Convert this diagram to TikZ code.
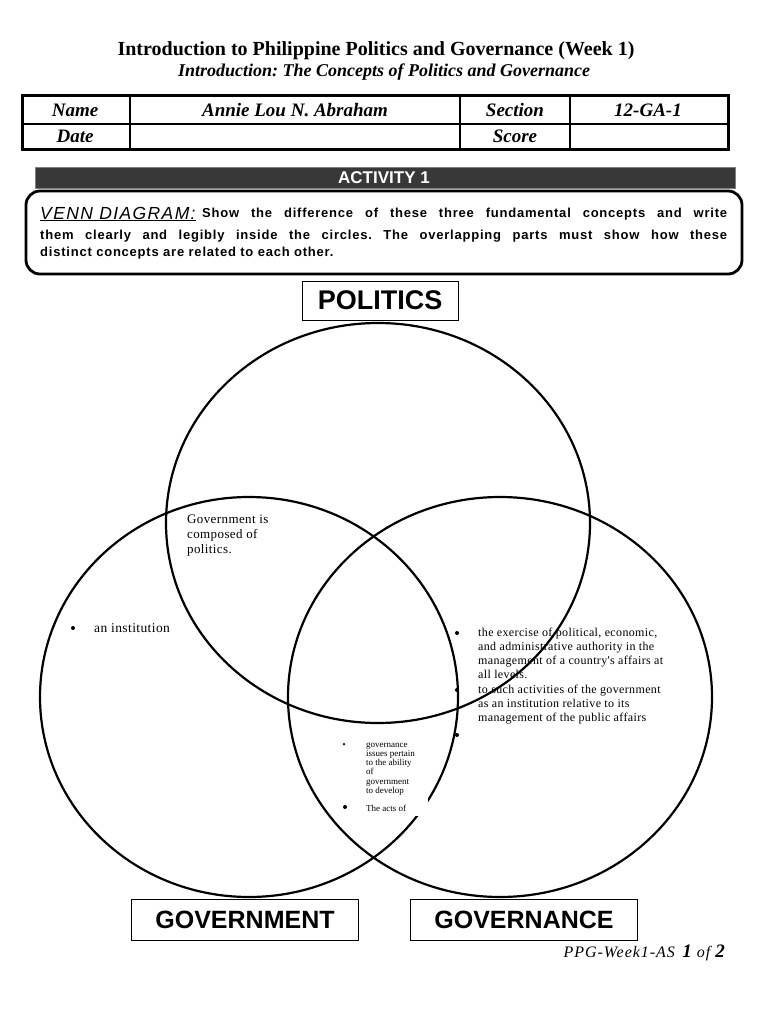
\documentclass[tikz,border=0pt]{standalone}
\usepackage{fontspec}
\usetikzlibrary{shapes.geometric}
\setmainfont{Liberation Serif}
\newfontfamily\hdfont{Liberation Serif}
\newfontfamily\bodyserif[LetterSpace=3]{Liberation Serif}
\newfontfamily\smallserif{Liberation Serif}
\newfontfamily\footfont[LetterSpace=6]{Liberation Serif}
\newfontfamily\instrfont[LetterSpace=6]{Liberation Sans}
\newfontfamily\vennfont[LetterSpace=8]{Liberation Sans}
\newfontfamily\labfont{Liberation Sans}
\newcommand{\fs}[1]{\fontsize{#1}{#1}\selectfont}
\frenchspacing
\tikzset{
  venn/.style={draw, ellipse, line width=2.2pt, inner sep=0pt},
  labbox/.style={draw, line width=0.8pt, inner sep=0pt, font=\labfont\bfseries\fs{25}},
  hd/.style={anchor=base, inner sep=0pt},
  cell/.style={anchor=base, inner sep=0pt, font=\hdfont\bfseries\itshape\fs{19}},
  txt/.style={anchor=base west, inner sep=0pt},
  bul/.style={circle, fill=black, inner sep=0pt, minimum size=4pt},
}
\begin{document}
\begin{tikzpicture}[x=1pt,y=-1pt]
\useasboundingbox[fill=white] (0,0) rectangle (768,1024);

% header
\node[hd, font=\hdfont\bfseries\fs{20}] (title) at (376,56) {Introduction to Philippine Politics and Governance (Week 1)};
\node[hd, font=\hdfont\bfseries\itshape\fs{18}] (subtitle) at (384,77) {Introduction: The Concepts of Politics and Governance};

% table
\draw[line width=3pt] (22,96) rectangle (728,150);
\draw[line width=2.4pt] (22,124) -- (728,124);
\draw[line width=2.4pt] (130,96) -- (130,150);
\draw[line width=2.4pt] (460,96) -- (460,150);
\draw[line width=2.4pt] (570,96) -- (570,150);
\node[cell] (name) at (75,117) {Name};
\node[cell] (nameval) at (295,117) {Annie Lou N. Abraham};
\node[cell] (section) at (515,117) {Section};
\node[cell] (secval) at (648,117) {12-GA-1};
\node[cell] (date) at (75,143) {Date};
\node[cell] (score) at (515,143) {Score};

% activity bar
\fill[black!78] (35,167) rectangle (735,188);
\draw[black!50, line width=0.8pt] (35,167) rectangle (735,188);
\node[hd, text=white, font=\labfont\bfseries\fs{17}] (act) at (384,184) {ACTIVITY 1};

% instruction box
\draw[line width=2.8pt, rounded corners=14pt] (26,191) rectangle (742,274);
\node[txt, font=\vennfont\itshape\fs{17.5}] (venn) at (40,219) {\underline{VENN DIAGRAM:}};
\node[txt, font=\instrfont\bfseries\fs{13}] (ins1) at (202,218) {\makebox[525pt][s]{Show the difference of these three fundamental concepts and write}};
\node[txt, font=\instrfont\bfseries\fs{13}] (ins2) at (40,240) {\makebox[687pt][s]{them clearly and legibly inside the circles. The overlapping parts must show how these}};
\node[txt, font=\instrfont\bfseries\fs{13}] (ins3) at (40,256) {distinct concepts are related to each other.};

% label boxes
\node[labbox, minimum width=156pt, minimum height=39pt, font=\labfont\bfseries\fs{27}] (politics) at (380,300.5) {POLITICS};
\node[labbox, minimum width=227pt, minimum height=41pt] (government) at (245,919.5) {GOVERNMENT};
\node[labbox, minimum width=227pt, minimum height=41pt] (governance) at (524,919.5) {GOVERNANCE};

% texts inside circles
\node[txt, font=\bodyserif\fs{13}] (g1) at (187,523) {Government is};
\node[txt, font=\bodyserif\fs{13}] (g2) at (187,538) {composed of};
\node[txt, font=\bodyserif\fs{13}] (g3) at (187,553) {politics.};

\node[bul] (b0) at (73,628) {};
\node[txt, font=\bodyserif\fs{13.5}] (inst) at (94,632) {an institution};

\node[bul] (b1) at (457,633) {};
\node[bul] (b2) at (457,690) {};
\node[bul] (b3) at (457,735) {};
\foreach \t [count=\i from 0] in {{the exercise of political, economic,},{and administrative authority in the},{management of a country's affairs at},{all levels.},{to such activities of the government},{as an institution relative to its},{management of the public affairs}}
  \node[txt, font=\bodyserif\fs{12}] (r\i) at (478,636+14.3*\i) {\t};

% circles
\node[venn, minimum width=424pt, minimum height=400pt] (pol) at (378,523) {};
\node[venn, minimum width=418pt, minimum height=400pt] (gov) at (249,697) {};
\node[venn, minimum width=424pt, minimum height=400pt] (gvn) at (500,697) {};

% small text block (white background over the circle)
\fill[white] (338,737) rectangle (428,816);
\node[bul, minimum size=2.5pt] (s0) at (344,744) {};
\foreach \t [count=\i from 0] in {governance,issues pertain,to the ability,of,government,to develop}
  \node[txt, font=\smallserif\fs{9}] (m\i) at (366,747+9.3*\i) {\t};
\node[bul, minimum size=4pt] (s1) at (345,807) {};
\node[txt, font=\smallserif\fs{9}] (acts) at (366,811) {The acts of};

% footer
\node[anchor=base east, inner sep=0pt, font=\footfont\itshape\fs{16}] (footer) at (725,957) {PPG-Week1-AS \,{\hdfont\bfseries\itshape\fs{19}1} of {\hdfont\bfseries\itshape\fs{19}2}};
\end{tikzpicture}
\end{document}
